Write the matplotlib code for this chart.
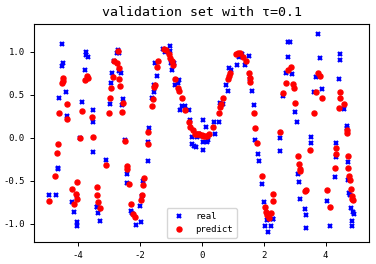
import numpy as np
import matplotlib
matplotlib.use('Agg')
import matplotlib.pyplot as plt

# values
real_x = [-4.94, -4.72, -4.67, -4.67, -4.61, -4.53, -4.49, -4.53, -4.39, -4.35,
          -4.20, -4.13, -4.05, -4.05, -4.03, -3.95, -3.87, -3.77, -3.75, -3.75,
          -3.70, -3.54, -3.54, -3.51, -3.40, -3.40, -3.35, -3.30, -3.11, -2.99,
          -2.95, -2.92, -2.84, -2.74, -2.72, -2.69, -2.68, -2.63, -2.58, -2.55,
          -2.48, -2.44, -2.43, -2.29, -2.25, -2.13, -1.99, -1.97, -1.93, -1.91,
          -1.76, -1.76, -1.72, -1.62, -1.56, -1.55, -1.52, -1.45, -1.25, -1.18,
          -1.13, -1.03, -1.02, -0.99, -0.97, -0.90, -0.86, -0.77, -0.74, -0.72,
          -0.63, -0.54, -0.42, -0.38, -0.32, -0.32, -0.25, -0.20, -0.17, -0.10,
          -0.08, 0.03, 0.03, 0.05, 0.14, 0.15, 0.20, 0.39, 0.41, 0.54,
          0.57, 0.67, 0.78, 0.84, 0.89, 0.95, 1.13, 1.19, 1.30, 1.38,
          1.52, 1.56, 1.61, 1.68, 1.73, 1.81, 1.85, 1.94, 2.02, 2.05,
          2.10, 2.14, 2.24, 2.29, 2.31, 2.51, 2.53, 2.63, 2.72, 2.80,
          2.78, 2.86, 2.91, 3.00, 3.06, 3.11, 3.15, 3.18, 3.34, 3.36,
          3.37, 3.53, 3.53, 3.62, 3.69, 3.74, 3.82, 3.87, 4.06, 4.15,
          4.30, 4.33, 4.33, 4.42, 4.47, 4.47, 4.61, 4.68, 4.68, 4.73,
          4.74, 4.76, 4.78, 4.81, 4.84, 4.84, 4.89, 4.92]
real_y = [-0.67, -0.66, -0.36, -0.35, 0.47, 1.09, 0.87, 0.84, 0.53, 0.25,
          -0.75, -0.86, -0.98, -1.03, -0.68, 0.00, 0.42, 0.79, 1.00, 0.97,
          0.94, 0.33, 0.19, -0.17, -0.80, -0.81, -0.88, -0.97, -0.26, 0.39,
          0.64, 0.75, 0.89, 0.99, 1.02, 0.99, 0.78, 0.75, 0.38, 0.45,
          -0.03, -0.42, -0.52, -0.85, -0.88, -1.01, -0.79, -0.98, -0.68, -0.50,
          -0.27, -0.05, 0.12, 0.47, 0.53, 0.61, 0.87, 0.72, 1.03, 1.00,
          1.01, 1.07, 1.01, 0.87, 0.79, 0.87, 0.62, 0.64, 0.67, 0.33,
          0.37, 0.37, 0.32, 0.21, 0.01, -0.07, -0.10, -0.11, 0.01, 0.02,
          0.05, 0.21, -0.14, -0.05, 0.13, -0.05, -0.03, 0.18, 0.04, 0.18,
          0.41, 0.40, 0.62, 0.55, 0.81, 0.79, 0.85, 0.94, 0.98, 0.85,
          0.95, 0.68, 0.55, 0.38, -0.03, -0.19, -0.27, -0.54, -0.75, -1.02,
          -0.96, -1.10, -1.03, -0.94, -0.94, 0.00, -0.15, 0.49, 0.75, 0.94,
          1.12, 1.12, 0.74, 0.30, 0.19, -0.42, -0.51, -0.71, -0.83, -0.90,
          -1.05, 0.01, -0.06, 0.53, 0.71, 1.21, 0.93, 0.57, -0.74, -1.02,
          -0.46, -0.06, -0.22, 0.69, 0.98, 0.91, 0.34, 0.14, 0.11, -0.28,
          -0.49, -0.64, -0.67, -0.82, -0.97, -1.02, -0.86, -0.89]

pred_x = [-4.94, -4.74, -4.68, -4.67, -4.61, -4.51, -4.50, -4.53, -4.38, -4.35,
          -4.20, -4.14, -4.06, -4.04, -4.03, -3.95, -3.87, -3.78, -3.73, -3.68,
          -3.55, -3.52, -3.39, -3.39, -3.37, -3.30, -3.11, -3.00, -2.99, -2.95,
          -2.88, -2.83, -2.76, -2.73, -2.69, -2.68, -2.64, -2.59, -2.55, -2.49,
          -2.42, -2.41, -2.36, -2.28, -2.23, -2.17, -1.96, -1.94, -1.90, -1.87,
          -1.76, -1.75, -1.63, -1.59, -1.55, -1.53, -1.46, -1.41, -1.23, -1.15,
          -1.08, -1.02, -0.98, -0.94, -0.88, -0.79, -0.75, -0.65, -0.56, -0.43,
          -0.38, -0.30, -0.24, -0.18, -0.13, -0.08, -0.01, 0.05, 0.11, 0.16,
          0.22, 0.35, 0.54, 0.57, 0.61, 0.68, 0.84, 0.87, 0.92, 1.10,
          1.16, 1.24, 1.34, 1.43, 1.51, 1.54, 1.56, 1.68, 1.73, 1.79,
          1.95, 2.04, 2.08, 2.11, 2.16, 2.23, 2.29, 2.31, 2.51, 2.63,
          2.72, 2.80, 2.87, 2.95, 2.97, 3.00, 3.11, 3.14, 3.17, 3.18,
          3.34, 3.38, 3.51, 3.61, 3.68, 3.74, 3.82, 3.87, 4.06, 4.15,
          4.30, 4.33, 4.33, 4.42, 4.47, 4.48, 4.61, 4.68, 4.69, 4.72,
          4.74, 4.76, 4.78, 4.81, 4.84, 4.87, 4.90]
pred_y = [-0.74, -0.44, -0.18, -0.07, 0.29, 0.66, 0.70, 0.64, 0.39, 0.22,
          -0.60, -0.77, -0.65, -0.71, -0.51, 0.00, 0.31, 0.67, 0.72, 0.70,
          0.24, 0.01, -0.57, -0.67, -0.75, -0.82, -0.32, 0.29, 0.47, 0.58,
          0.71, 0.89, 0.87, 1.01, 0.81, 0.69, 0.60, 0.30, 0.41, -0.04,
          -0.33, -0.36, -0.54, -0.77, -0.89, -0.92, -0.72, -0.66, -0.55, -0.47,
          -0.07, 0.07, 0.37, 0.45, 0.59, 0.61, 0.83, 0.89, 1.03, 1.02,
          0.98, 0.93, 0.89, 0.85, 0.68, 0.58, 0.55, 0.46, 0.33, 0.19,
          0.13, 0.09, 0.05, 0.05, 0.04, 0.04, 0.03, 0.02, 0.02, 0.02,
          0.05, 0.13, 0.29, 0.36, 0.40, 0.46, 0.68, 0.72, 0.76, 0.98,
          0.99, 0.99, 0.94, 0.89, 0.75, 0.70, 0.65, 0.29, 0.12, -0.06,
          -0.44, -0.80, -0.86, -0.90, -0.93, -0.87, -0.74, -0.65, 0.07, 0.52,
          0.64, 0.79, 0.82, 0.63, 0.58, 0.41, -0.21, -0.30, -0.36, -0.39,
          -0.62, -0.61, -0.14, 0.29, 0.53, 0.76, 0.72, 0.47, -0.61, -0.81,
          -0.35, -0.12, -0.19, 0.35, 0.53, 0.46, 0.40, 0.09, 0.06, -0.21,
          -0.35, -0.44, -0.49, -0.59, -0.68, -0.71, -0.72]

plt.rcParams['font.family'] = ['DejaVu Sans Mono']
plt.rcParams['axes.unicode_minus'] = False

fig = plt.figure(figsize=(3.76, 2.64), dpi=100)
ax = fig.add_axes([0.0904, 0.0822, 0.8916, 0.8268])

ax.plot(real_x, real_y, 'bx', markersize=3.2, markeredgewidth=1.6, label='real')
ax.plot(pred_x, pred_y, 'ro', markersize=3.6, label='predict')

ax.set_title('validation set with \u03c4=0.1', fontsize=9.5)
ax.tick_params(labelsize=6.5, length=3, width=0.7)
for s in ax.spines.values():
    s.set_linewidth(0.8)
ax.legend(loc='lower center', fontsize=6.5)

fig.savefig('out.png', dpi=100)
